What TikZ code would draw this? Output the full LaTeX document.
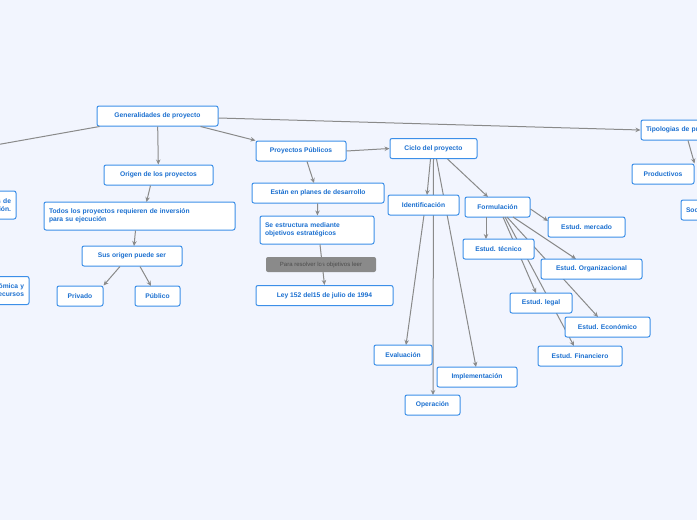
\documentclass[tikz,border=0pt]{standalone}
\usepackage{fontspec}
\setmainfont{Liberation Sans}
\usetikzlibrary{arrows.meta}
\definecolor{bg}{HTML}{F2F5FE}
\definecolor{bd}{HTML}{3C8FE8}
\definecolor{tx}{HTML}{1A6FD0}
\definecolor{ln}{HTML}{8A8A8A}
\begin{document}
\begin{tikzpicture}[x=1pt,y=-1pt,
 box/.style={draw=bd,fill=white,line width=1pt,rounded corners=2pt,text=tx,font=\fontsize{6.7}{8}\selectfont\bfseries,minimum height=20pt,inner sep=1pt},
 lbox/.style={box,align=left,text width=#1-10pt,inner xsep=5pt,minimum height=28pt},
 gbox/.style={fill=ln,rounded corners=2pt,text=black!70,font=\fontsize{6}{7}\selectfont,minimum width=110pt,minimum height=15pt,inner sep=1pt},
 ar/.style={draw=ln,line width=1pt,-{Stealth[length=5pt,width=4.5pt]}},
 ln/.style={draw=ln,line width=1pt}]
\fill[bg] (0,0) rectangle (697,520);
\useasboundingbox (0,0) rectangle (697,520);
\clip (0,0) rectangle (697,520);
% coordinates for ciclo children (edges drawn first)
\coordinate (ideN) at (427,195);
\coordinate (forN) at (488,197);
\coordinate (evaN) at (406,345);
\coordinate (impN) at (476,367);
\coordinate (opeN) at (433,395);
\coordinate (merW) at (548,221);
\coordinate (tecN) at (486,239);
\coordinate (orgN) at (576,259);
\coordinate (legN) at (536,293);
\coordinate (ecoN) at (598,317);
\coordinate (finN) at (574,346);
% nodes
\node[box,minimum width=121pt] (gen) at (157.5,116) {Generalidades de proyecto};
\node[lbox=92pt,align=right] (l1) at (-30,205) {Características de\\la inversión.};
\node[lbox=92pt,align=right] (l2) at (-17,290.5) {Estructura económica y\\recursos};
\node[box,minimum width=109pt] (ori) at (158.5,175) {Origen de los proyectos};
\node[lbox=191pt] (todos) at (139.5,216) {Todos los proyectos requieren de inversión\\para su ejecución};
\node[box,minimum width=100pt] (sus) at (132,256) {Sus origen puede ser};
\node[box,minimum width=46pt] (priv) at (80,296) {Privado};
\node[box,minimum width=45pt] (pub) at (157.5,296) {Público};
\node[box,minimum width=90pt] (pp) at (301,151) {Proyectos Públicos};
\node[box,minimum width=132pt] (est) at (318,193) {Están en planes de desarrollo};
\node[lbox=114pt] (se) at (317,230) {Se estructura mediante\\objetivos estratégicos};
\node[gbox] (gl) at (321,264.5) {Para resolver los objetivos leer};
\node[box,minimum width=137pt] (ley) at (324.5,295.5) {Ley 152 del15 de julio de 1994};
\node[box,minimum width=87pt] (cic) at (433.5,148.5) {Ciclo del proyecto};
\node[box,minimum width=90pt,align=left,text width=80pt] (tip) at (686,130) {Tipologias de proyectos};
\node[box,minimum width=62pt] (prod) at (663,174) {Productivos};
\node[box,minimum width=60pt,align=left,text width=50pt] (ser) at (711,210) {Sociales};
% edges
\draw[ln] (gen.south west) ++(3,0) -- (-10,146);
\draw[ar] (gen) -- (ori);
\draw[ar] (gen.south east) ++(-18,0) -- (pp.north west);
\draw[ar] (gen.east) ++(0,2) -- (tip.west);
\draw[ar] (ori.south) ++(-8,0) -- (146.5,202);
\draw[ar] (todos.south) ++(-4,0) -- (134,246);
\draw[ar] (sus.south) ++(-12,0) -- (priv.north east);
\draw[ar] (sus.south) ++(8,0) -- (151,286);
\draw[ar] (pp.south) ++(6,0) -- (314,183);
\draw[ar] (est) -- (se);
\draw[ar] (se.south) ++(3,0) -- (ley.north);
\draw[ar] (pp.east) -- (cic.west);
\draw[ar] (tip.south) ++(2,0) -- (prod.north east);
\draw[ln] (tip.south) ++(12,0) -- (699,160);
\draw[ar] (cic.south) ++(-3,0) -- (ideN);
\draw[ar] (cic.south) ++(0,0) -- (opeN);
\draw[ar] (cic.south) ++(3,0) -- (impN);
\draw[ar] (cic.south east) ++(-30,0) -- (forN);
\draw[ar] (ideN) ++(-3,20) -- (evaN);
% formulacion
\node[box,minimum width=65pt] (for) at (497.5,207) {Formulación};
\draw[ar] (for.east) ++(0,2) -- (merW);
\draw[ar] (503,217) -- (legN);
\draw[ar] (505,217) -- (finN);
\draw[ar] (507,217) -- (ecoN);
\draw[ar] (513,217) -- (orgN);
\draw[ar] (486,217) -- (tecN);
\node[box,minimum width=71pt] (ide) at (423.5,205) {Identificación};
\node[box,minimum width=58pt] (eva) at (403,355) {Evaluación};
\node[box,minimum width=80pt] (imp) at (477,377) {Implementación};
\node[box,minimum width=55pt] (ope) at (432.5,405) {Operación};
\node[box,minimum width=77pt] (mer) at (586.5,227) {Estud. mercado};
\node[box,minimum width=71pt] (tec) at (498.5,249) {Estud. técnico};
\node[box,minimum width=101pt] (org) at (591.5,269) {Estud. Organizacional};
\node[box,minimum width=62pt] (leg) at (541,303) {Estud. legal};
\node[box,minimum width=85pt] (eco) at (607.5,327) {Estud. Económico};
\node[box,minimum width=84pt] (fin) at (580,356) {Estud. Financiero};
\end{tikzpicture}
\end{document}
